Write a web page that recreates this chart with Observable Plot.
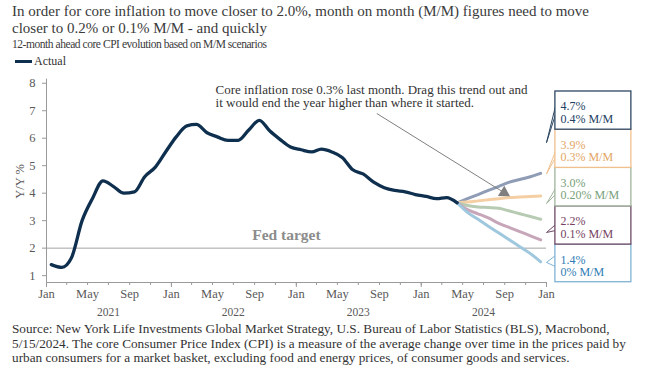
<!DOCTYPE html>
<html><head><meta charset="utf-8">
<script src="https://cdn.jsdelivr.net/npm/d3@7"></script>
<script src="https://cdn.jsdelivr.net/npm/@observablehq/plot@0.6"></script>
<style>
body{margin:0;background:#fff;font-family:"Liberation Serif",serif;color:#333;}
#wrap{width:657px;height:371px;overflow:hidden;}
.title{margin:3px 0 0 12px;font-size:15px;line-height:17px;color:#3a3a3a;white-space:nowrap;}
.subtitle{margin:0 0 0 12px;font-size:11.5px;line-height:15px;color:#3a3a3a;letter-spacing:-0.45px;}
.legend{margin:0 0 0 15px;height:18px;font-size:12px;line-height:18px;color:#333;display:flex;align-items:center;}
.legend .sw{width:17px;height:3px;background:#0f2f4f;margin-right:2px;}
.caption{margin:2px 0 0 12px;font-size:13.25px;line-height:14.5px;color:#333;white-space:nowrap;}
svg{display:block;}
</style></head>
<body><div id="wrap">
<div class="title">In order for core inflation to move closer to 2.0%, month on month (M/M) figures need to move<br>closer to 0.2% or 0.1% M/M - and quickly</div>
<div class="subtitle">12-month ahead core CPI evolution based on M/M scenarios</div>
<div class="legend"><span class="sw"></span><span>Actual</span></div>
<div id="chart"></div>
<div class="caption">Source: New York Life Investments Global Market Strategy, U.S. Bureau of Labor Statistics (BLS), Macrobond,<br>5/15/2024. The core Consumer Price Index (CPI) is a measure of the average change over time in the prices paid by<br>urban consumers for a market basket, excluding food and energy prices, of consumer goods and services.</div>
</div>
<script>
// ---- data ----
const actualValues = [1.4,1.3,1.65,3.0,3.8,4.45,4.25,4.0,4.05,4.6,4.95,5.5,
  6.05,6.45,6.5,6.2,6.05,5.92,5.92,6.3,6.65,6.27,5.95,5.68,
  5.58,5.5,5.6,5.5,5.3,4.85,4.7,4.4,4.2,4.1,4.05,3.95,
  3.88,3.8,3.84,3.65];
const scenarioNames = ["0.4% M/M","0.3% M/M","0.20% M/M","0.1% M/M","0% M/M"];
const scenarioEnds = ["4.7%","3.9%","3.0%","2.2%","1.4%"];
const s04 = [3.65,3.8,3.95,4.1,4.25,4.4,4.5,4.6,4.72];
const s03 = [3.65,3.68,3.72,3.76,3.8,3.84,3.86,3.88,3.9];
const s02 = [3.65,3.55,3.5,3.48,3.45,3.35,3.25,3.15,3.05];
const s01 = [3.65,3.4,3.25,3.1,2.9,2.75,2.6,2.45,2.3];
const s00 = [3.65,3.3,3.05,2.8,2.55,2.3,2.05,1.8,1.5];
const scenarioValues = [s04,s03,s02,s01,s00];
const fedTarget = 2;
const yTicks = [1,2,3,4,5,6,7,8];
const noteText = "Core inflation rose 0.3% last month. Drag this trend out and\nit would end the year higher than where it started.";

// ---- layout / style ----
const D = (y,m,d) => new Date(Date.UTC(y,m,d));
const monthDate = i => D(2021, i, 15);
const xStart = D(2021,0,1), xEnd = D(2025,0,1);
const lineColors = ["#8e9cb6","#f5cfa4","#b7cbb2","#c6a6b8","#9fc7dd"];
const boxColors  = ["#2c4763","#f0c08e","#9fb59c","#6e4a66","#7fb3d3"];
const textColors = ["#22405f","#e3a665","#77a07a","#774262","#2f7cb5"];
const boxTop = [7.70,6.31,4.92,3.52,2.13];
const boxBottom = [6.31,4.92,3.52,2.13,0.76];
const boxX1 = D(2025,0,27), boxX2 = D(2025,8,6);
const wedgeTip = [5.84,4.70,3.62,2.57,1.48];
const wedgeBase = [[7.15,6.85],[5.51,5.29],[4.16,3.95],[2.85,2.64],[1.73,1.33]];

const actual = actualValues.map((v,i)=>({date: monthDate(i), value: v}));
const scen = scenarioValues.map(arr => arr.map((v,j)=>({date: monthDate(39+j), value: v})));

const months2 = d3.utcMonth.every(2).range(xStart, D(2025,0,2));
const months4 = d3.utcMonth.every(4).range(xStart, D(2025,0,2));
const jans = d3.utcYear.range(xStart, D(2025,0,2));
const julys = [2021,2022,2023,2024].map(y => D(y,6,1));

const marks = [];
marks.push(Plot.ruleY([fedTarget], {x1: xStart, x2: xEnd, stroke: "#a3a3a3", strokeWidth: 1}));
marks.push(Plot.text(["Fed target"], {x: D(2022,11,3), y: 2.47, text: d=>d, fontSize: 15.5, fontWeight: "bold", fill: "#8c8c8c"}));
marks.push(Plot.ruleX([xStart], {y1: 0.75, y2: 8.15, stroke: "#9a9a9a"}));
marks.push(Plot.ruleY([0.75], {x1: xStart, x2: xEnd, stroke: "#9a9a9a"}));
marks.push(Plot.axisY({ticks: yTicks, tickSize: 4, tickPadding: 7, fontSize: 12.5, stroke: "#9a9a9a", label: "Y/Y %", labelAnchor: "center", labelOffset: 31, labelArrow: "none"}));
marks.push(Plot.axisX({ticks: months2, tickSize: 3, tickFormat: () => "", stroke: "#9a9a9a"}));
marks.push(Plot.axisX({ticks: jans, tickSize: 5, tickFormat: () => "", stroke: "#9a9a9a"}));
marks.push(Plot.axisX({ticks: months4, tickSize: 0, tickPadding: 7, tickFormat: d3.utcFormat("%b"), fontSize: 12.5, label: null}));
marks.push(Plot.axisX({ticks: julys, tickSize: 0, tickPadding: 25, tickFormat: d3.utcFormat("%Y"), fontSize: 11.5, label: null}));
// scenarios
scen.forEach((s,k) => marks.push(Plot.line(s, {x: "date", y: "value", stroke: lineColors[k], strokeWidth: 3, curve: "monotone-x"})));
marks.push(Plot.line(actual, {x: "date", y: "value", stroke: "#0f2f4f", strokeWidth: 3.3, curve: "monotone-x"}));
// annotation
marks.push(Plot.link([0], {x1: D(2023,7,24), y1: 6.9, x2: D(2024,7,30), y2: 4.02, stroke: "#7f7f7f", strokeWidth: 1}));
marks.push(Plot.dot([0], {x: D(2024,7,30), y: 4.02, symbol: "triangle", r: 4.5, rotate: 122, fill: "#7f7f7f", stroke: "none"}));
marks.push(Plot.text([noteText], {x: D(2022,4,10), y: 7.97, text: d=>d, textAnchor: "start", lineAnchor: "top", fontSize: 13, lineHeight: 1.05, fill: "#333"}));
// boxes (bottom to top)
for (let k = 4; k >= 0; k--) {
  const w = [{x: boxX1, y: wedgeBase[k][0]}, {x: xEnd, y: wedgeTip[k]}, {x: boxX1, y: wedgeBase[k][1]}];
  marks.push(Plot.line(w, {x: "x", y: "y", stroke: boxColors[k], fill: "white", strokeWidth: 1, curve: "linear"}));
  marks.push(Plot.rect([k], {x1: boxX1, x2: boxX2, y1: boxBottom[k], y2: boxTop[k], fill: "white", stroke: boxColors[k], strokeWidth: 1.3}));
  marks.push(Plot.text([k], {x: boxX1, y: boxTop[k], dx: 5, dy: 10, text: () => scenarioEnds[k] + "\n" + scenarioNames[k], textAnchor: "start", lineAnchor: "top", fontSize: 12, lineHeight: 1.05, fill: textColors[k]}));
}

const chart = Plot.plot({
  width: 657, height: 250,
  marginLeft: 46, marginRight: 111, marginTop: 10, marginBottom: 38,
  x: {type: "utc", domain: [xStart, xEnd]},
  y: {domain: [0.75, 8.1]},
  style: {fontFamily: "Liberation Serif, serif", fontSize: "12px", color: "#595959", background: "white", overflow: "visible"},
  marks
});
document.getElementById("chart").appendChild(chart);
</script>
</body></html>
